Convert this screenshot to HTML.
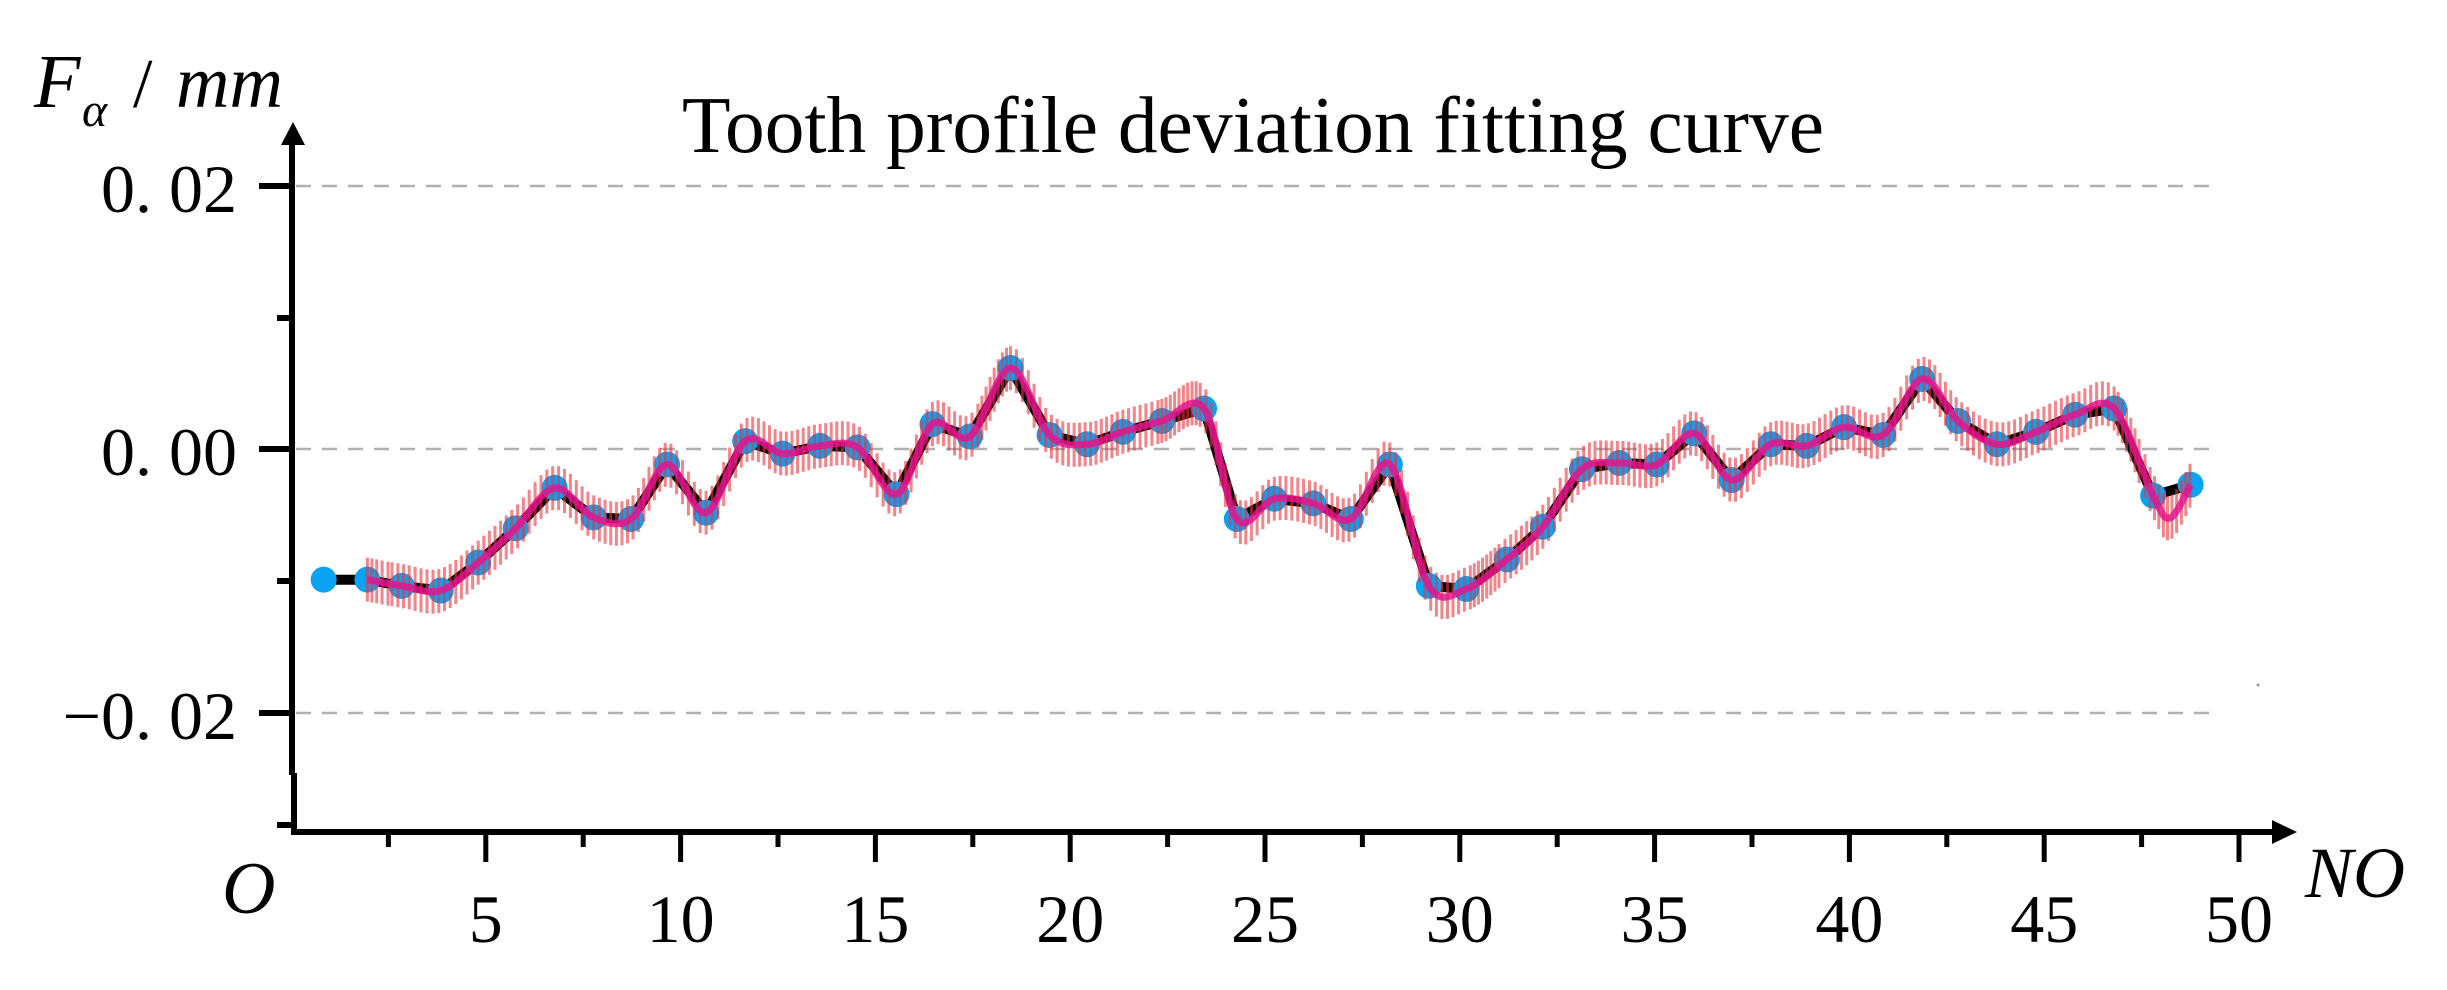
<!DOCTYPE html>
<html><head><meta charset="utf-8"><style>
html,body{margin:0;padding:0;background:#fff;}
svg{display:block;}
</style></head><body>
<svg id="s" width="2447" height="990" viewBox="0 0 2447 990" xmlns="http://www.w3.org/2000/svg">
<rect width="2447" height="990" fill="#fff"/>
<g stroke="#b0b0b0" stroke-width="2.5" stroke-dasharray="15,11">
<line x1="296" y1="186" x2="2215" y2="186"/>
<line x1="296" y1="449" x2="2215" y2="449"/>
<line x1="296" y1="713" x2="2215" y2="713"/>
</g>
<g id="data"></g>
<g stroke="#000" stroke-width="6" fill="none">
<line x1="292" y1="140" x2="292" y2="775"/>
<line x1="294" y1="773" x2="294" y2="835"/>
<line x1="292" y1="832" x2="2278" y2="832"/>
<line x1="259" y1="186" x2="292" y2="186"/>
<line x1="259" y1="449" x2="292" y2="449"/>
<line x1="259" y1="713" x2="292" y2="713"/>
<line x1="277" y1="318" x2="292" y2="318"/>
<line x1="277" y1="581" x2="292" y2="581"/>
<line x1="277" y1="825" x2="292" y2="825"/>
</g>
<polygon points="293,122 281,145 305,145" fill="#000"/>
<polygon points="2297,832 2272,820 2272,844" fill="#000"/>
<g id="ticks" stroke="#000" stroke-width="5"></g>
<g font-family="Liberation Serif, serif" font-size="68" fill="#000">
<text x="237" y="212" text-anchor="end">0. 02</text>
<text x="237" y="475" text-anchor="end">0. 00</text>
<text x="237" y="739" text-anchor="end">−0. 02</text>
<g id="xl" text-anchor="middle"></g>
<text x="682" y="152" font-size="80" textLength="1142" lengthAdjust="spacingAndGlyphs">Tooth profile deviation fitting curve</text>
<text x="222" y="913" font-style="italic" font-size="74">O</text>
<text x="2305" y="897" font-style="italic" font-size="72">NO</text>
<text x="34" y="107" font-size="76"><tspan font-style="italic">F</tspan></text>
<text x="82" y="126" font-size="48" font-style="italic">α</text>
<text x="133" y="107" font-size="70">/</text>
<text x="176" y="107" font-size="74" font-style="italic">mm</text>
</g>
<circle cx="2258" cy="685" r="1.5" fill="#999"/>
</svg>
<script>
(function(){
var NS="http://www.w3.org/2000/svg";
function el(t,a,p){var e=document.createElementNS(NS,t);for(var k in a)e.setAttribute(k,a[k]);p.appendChild(e);return e;}
var tk=document.getElementById('ticks'),xl=document.getElementById('xl');
for(var v=2.5;v<=50.01;v+=2.5){var x=291+v*38.96;var maj=(Math.abs(v%5)<0.01);
el('line',{x1:x,y1:832,x2:x,y2:maj?862:847},tk);
if(maj){var t=el('text',{x:x,y:942},xl);t.textContent=String(v);}}
var dx=[208,236,258,283,307,331,356,381,405,428,453,478,502,526,550,575,598,622,648,673,697,720,745,772,793,817,842,866,891,916,940,966,989,1014,1038,1062,1086,1110,1135,1158,1182,1207,1232,1255,1280,1305,1330,1355,1380,1404];
var dy=[372,372,376,379,361,339,313,332,333,298,329,283,291,286,287,317,272,280,236,279,285,277,270,262,333,320,323,333,298,376,378,359,338,301,297,298,278,308,285,286,274,279,243,270,285,277,266,262,318,311];
var P=[];for(var i=0;i<dx.length;i++){P.push([486+(dx[i]-312)*1.561,186+(dy[i]-119)*1.556]);}
var g=document.getElementById('data');
var d='M'+P.map(function(p){return p[0].toFixed(1)+','+p[1].toFixed(1)}).join(' L');
el('path',{d:d,stroke:'#000','stroke-width':10,fill:'none','stroke-linejoin':'round'},g);
P.forEach(function(p){el('circle',{cx:p[0],cy:p[1],r:13,fill:'#0aa2f2'},g);});
var Q=P.slice(1,49);Q.push([2170,518]);Q.push(P[49]);
var S=[];
for(var i=0;i<Q.length-1;i++){var p0=Q[Math.max(0,i-1)],p1=Q[i],p2=Q[i+1],p3=Q[Math.min(Q.length-1,i+2)];
for(var t=0;t<1;t+=0.05){var t2=t*t,t3=t2*t;
var f=function(a,b,c,dd){return 0.5*((2*b)+(-a+c)*t+(2*a-5*b+4*c-dd)*t2+(-a+3*b-3*c+dd)*t3);};
S.push([f(p0[0],p1[0],p2[0],p3[0]),f(p0[1],p1[1],p2[1],p3[1])]);}}
S.push(Q[Q.length-1]);
var hd='';var last=-99;
for(var i=0;i<S.length;i++){if(S[i][0]-last>=4){last=S[i][0];hd+='M'+S[i][0].toFixed(1)+','+(S[i][1]-22).toFixed(1)+'V'+(S[i][1]+22).toFixed(1);}}
el('path',{d:hd,stroke:'rgba(235,50,60,0.6)','stroke-width':3,fill:'none'},g);
el('path',{d:'M'+S.map(function(p){return p[0].toFixed(1)+','+p[1].toFixed(1)}).join(' L'),stroke:'rgba(228,20,140,0.85)','stroke-width':7,fill:'none','stroke-linejoin':'round'},g);
})();
</script>
</body></html>
